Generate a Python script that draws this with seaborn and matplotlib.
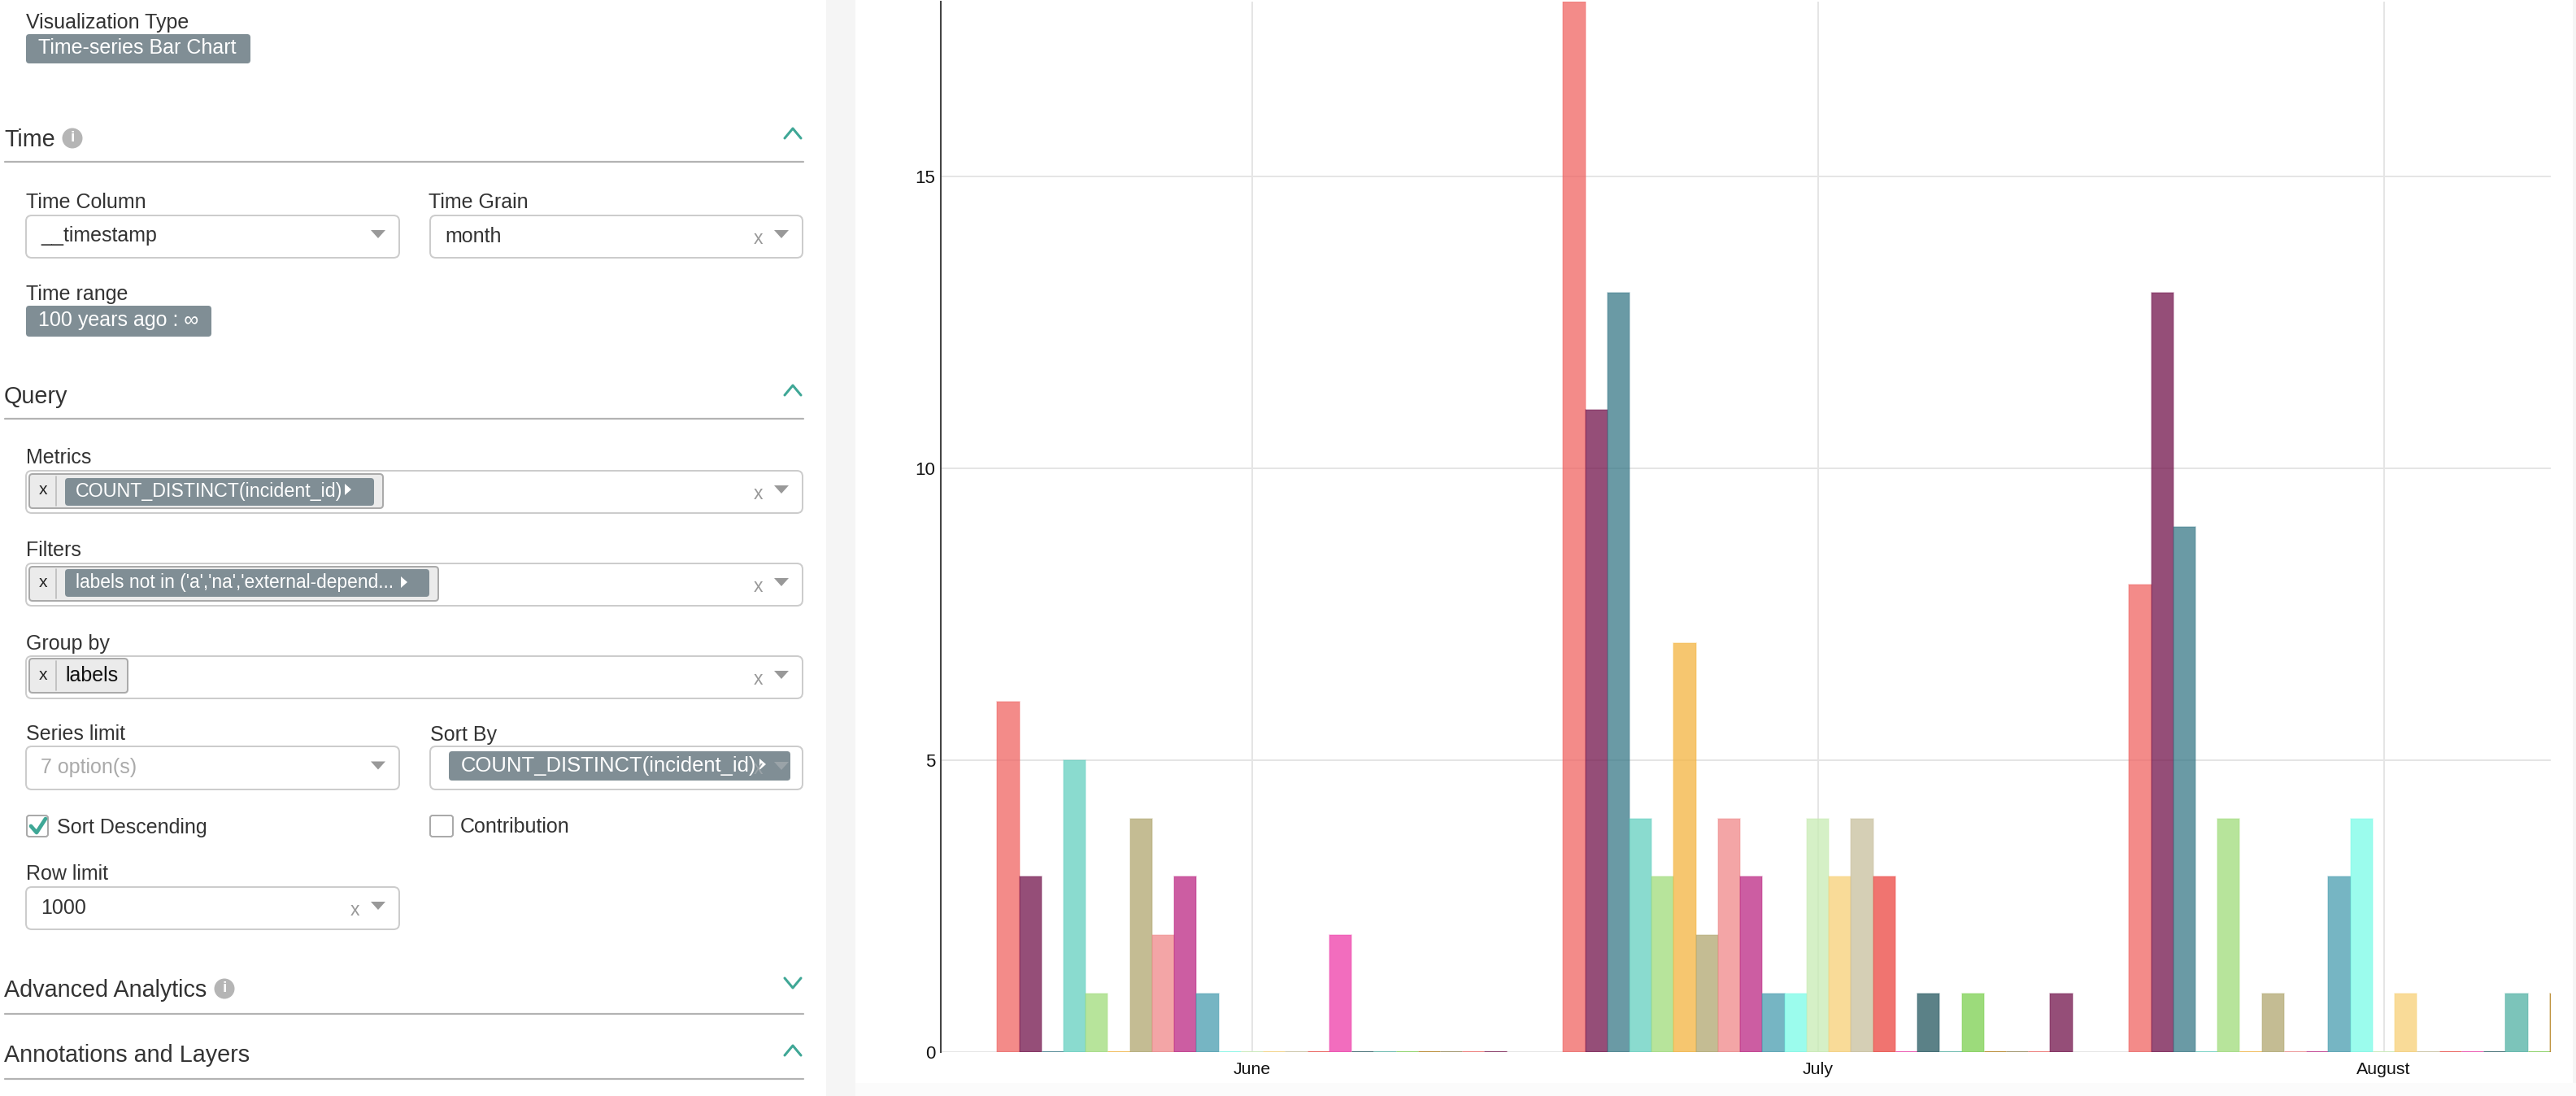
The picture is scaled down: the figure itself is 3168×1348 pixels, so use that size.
import numpy as np
import pandas as pd
import matplotlib
matplotlib.use("Agg")
import matplotlib.pyplot as plt
import matplotlib.patches as mpatches
import seaborn as sns

months = ["June", "July", "August"]
june_counts = [6, 3, 0, 5, 1, 0, 4, 2, 3, 1, 0, 0, 0, 0, 0, 2, 0, 0, 0, 0, 0, 0, 0]
july_counts = [18, 11, 13, 4, 3, 7, 2, 4, 3, 1, 1, 4, 3, 4, 3, 0, 1, 0, 1, 0, 0, 0, 1]
august_counts = [8, 13, 9, 0, 4, 0, 1, 0, 0, 3, 4, 0, 1, 0, 0, 0, 0, 1, 0, 1, 0, 0, 0]
y_ticks = [0, 5, 10, 15]
# colours of the label series, as they look on white
series_colors = ["#F38B89", "#954E78", "#6A9AA5", "#8ADBD0", "#B7E59B", "#F7C76F", "#C4BC93", "#F3A5A6",
                 "#CC5DA2", "#76B5C3", "#9BFCEE", "#D5F1C6", "#F9DC98", "#D6CFB5", "#F07470", "#F26DBE",
                 "#5B8187", "#7CC4BA", "#9CDB7B", "#C49A4A", "#AEA37D", "#F38B89", "#954E78"]

W, H = 3168, 1348
BAR_ALPHA = 0.75
GREY_TAG = "#808E95"
TEAL = "#3FA796"
LINE = "#B3B3B3"
BOX = "#CCCCCC"
INK = "#333333"


def under_white(color):
    # base colour which gives "color" when drawn with BAR_ALPHA on white
    rgb = np.array(matplotlib.colors.to_rgb(color))
    return tuple(np.clip((rgb - (1 - BAR_ALPHA)) / BAR_ALPHA, 0, 1))


sns.set_theme(style="white")
plt.rcParams["font.family"] = ["Liberation Sans", "DejaVu Sans"]

rows = []
for month, counts in zip(months, [june_counts, july_counts, august_counts]):
    for i, c in enumerate(counts):
        rows.append({"month": month, "series": "s%d" % i, "count": c})
df = pd.DataFrame(rows)
series_order = ["s%d" % i for i in range(len(series_colors))]

fig = plt.figure(figsize=(W / 100, H / 100), dpi=100, facecolor="white")

# left control panel, drawn in pixel coordinates
ui = fig.add_axes([0, 0, 1, 1], zorder=0)
ui.set_xlim(0, W)
ui.set_ylim(H, 0)
ui.axis("off")


def label(x, y, s, size=25, color=INK, **kw):
    ui.text(x, y + 1.5, s, fontsize=size * 0.72, color=color, va="center", ha=kw.pop("ha", "left"), **kw)


def rbox(x0, y0, x1, y1, fc="white", ec=BOX, lw=2.0, r=7):
    ui.add_patch(mpatches.FancyBboxPatch((x0 + r, y0 + r), x1 - x0 - 2 * r, y1 - y0 - 2 * r,
                                         boxstyle="round,pad=%d,rounding_size=%d" % (r, r),
                                         fc=fc, ec=ec, lw=lw * 0.72))


def triangle(x, y, color="#999999", w=9, h=10):
    ui.add_patch(mpatches.Polygon([(x - w, y - h / 2), (x + w, y - h / 2), (x, y + h / 2)], fc=color, ec="none"))


def arrow_right(x, y):
    ui.add_patch(mpatches.Polygon([(x - 4, y - 7), (x + 4, y), (x - 4, y + 7)], fc="white", ec="none"))


def cross(x, y, color="#999999", size=23):
    ui.text(x, y, "x", fontsize=size * 0.72, color=color, ha="center", va="center")


def select(x0, y0, x1, y1, text=None, clear=False, color=INK):
    rbox(x0, y0, x1, y1)
    if text:
        label(x0 + 18, (y0 + y1) / 2 - 2, text, color=color)
    triangle(x1 - 26, (y0 + y1) / 2 - 3)
    if clear:
        cross(x1 - 55, (y0 + y1) / 2 + 2)


def badge(x0, y0, x1, y1, text, tx=None, size=25):
    rbox(x0, y0, x1, y1, fc=GREY_TAG, ec=GREY_TAG, lw=0, r=4)
    label(tx if tx else x0 + 15, (y0 + y1) / 2 - 2, text, color="white", size=size)


def section(y_text, y_line, text, up=True, icon_x=None):
    label(5, y_text, text, size=28.8)
    ys = y_line - 34
    if up:
        ui.plot([965, 975, 985], [ys + 5, ys - 7, ys + 5], color=TEAL, lw=2.2)
    else:
        ys = ys - 3
        ui.plot([965, 975, 985], [ys - 7, ys + 5, ys - 7], color=TEAL, lw=2.2)
    ui.plot([6, 988], [y_line, y_line], color=LINE, lw=1.6)
    if icon_x:
        ui.add_patch(mpatches.Ellipse((icon_x, y_text), 25, 25, fc="#B5B5B5", ec="none"))
        ui.text(icon_x, y_text, "i", color="white", fontsize=14, fontweight="bold", ha="center", va="center")


def multi_tag(y0, y1, x1):
    rbox(36, y0, x1, y1, fc="#EBEBEB", ec="#AAAAAA", r=4)
    cross(53, (y0 + y1) / 2 - 1, color="#222222", size=21)
    ui.plot([69, 69], [y0 + 3, y1 - 3], color="#BBBBBB", lw=1.2)


# grey gutter between panel and chart, and the page edges
ui.add_patch(mpatches.Rectangle((1016, 0), 36, H, fc="#F5F5F5", ec="none"))
ui.add_patch(mpatches.Rectangle((3164, 0), 4, H, fc="#F5F5F5", ec="none"))
ui.add_patch(mpatches.Rectangle((1052, 1332), W - 1052, 16, fc="#FBFBFB", ec="none"))

label(32, 26, "Visualization Type")
badge(32, 42, 308, 78, "Time-series Bar Chart")

section(170, 199, "Time", icon_x=89)
label(32, 248, "Time Column")
label(527, 248, "Time Grain")
select(32, 265, 491, 317, "__timestamp")
select(529, 265, 987, 317, "month", clear=True)
label(32, 360, "Time range")
badge(32, 376, 260, 414, "100 years ago : \u221e")

section(486, 515, "Query")
label(32, 561, "Metrics")
select(32, 579, 987, 631, clear=True)
multi_tag(583, 625, 471)
badge(80, 588, 460, 622, "COUNT_DISTINCT(incident_id)", tx=93, size=23.2)
arrow_right(428, 602)

label(32, 676, "Filters")
select(32, 693, 987, 745, clear=True)
multi_tag(697, 739, 539)
badge(80, 700, 528, 734, "labels not in ('a','na','external-depend...", tx=93, size=22.8)
arrow_right(497, 716)

label(32, 790, "Group by")
select(32, 807, 987, 859, clear=True)
multi_tag(810, 852, 157)
label(80, 829, "labels", color="#111111")

label(32, 902, "Series limit")
label(529, 902, "Sort By")
select(32, 918, 491, 971, "7 option(s)", color="#AAAAAA")
rbox(529, 918, 987, 971)
badge(552, 924, 972, 960, "COUNT_DISTINCT(incident_id)", tx=567, size=25.6)
arrow_right(938, 940)
triangle(961, 942, color="#9AA3A8")
cross(932, 946, color="#9AA3A8")

rbox(33, 1003, 59, 1029, ec="#AAAAAA", r=3)
ui.plot([38, 45, 56], [1016, 1024, 1007], color=TEAL, lw=3.4)
label(70, 1016, "Sort Descending")
rbox(529, 1003, 557, 1029, ec="#AAAAAA", r=3)
label(566, 1016, "Contribution")

label(32, 1073, "Row limit")
select(32, 1091, 491, 1143, "1000", clear=True)

section(1216, 1247, "Advanced Analytics", up=False, icon_x=276)
section(1297, 1327, "Annotations and Layers")

# chart
left, right, top, bottom = 1157, 3136.5, 1.5, 1293.7
ax = fig.add_axes([left / W, 1 - bottom / H, (right - left) / W, (bottom - top) / H], zorder=1)
ax.patch.set_alpha(0)
sns.barplot(data=df, x="month", y="count", hue="series", order=months, hue_order=series_order,
            palette=[under_white(c) for c in series_colors], width=0.9, gap=0, saturation=1,
            errorbar=None, legend=False, ax=ax)
for p in ax.patches:
    fc = p.get_facecolor()
    p.set_facecolor((*fc[:3], BAR_ALPHA))
    if p.get_height() == 0:
        # empty bars only show their stroke, half of it is clipped by the axes
        p.set_edgecolor((*fc[:3], 0.9))
        p.set_linewidth(2.0)
    else:
        p.set_edgecolor((*fc[:3], 0.35))
        p.set_linewidth(1.1)

ax.set_xlim(-(1539.5 - left) / 696, (right - 1539.5) / 696)
ax.set_ylim(0, 18)
ax.set_yticks(y_ticks)
ax.set_xlabel("")
ax.set_ylabel("")
ax.set_axisbelow(True)
ax.grid(True, color="#E5E5E5", lw=1.44)
ax.tick_params(axis="y", length=0, pad=5, labelsize=16, labelcolor="#111111")
ax.tick_params(axis="x", length=0, pad=9, labelsize=15.4, labelcolor="#111111")
sns.despine(ax=ax, top=True, right=True, bottom=True, left=False)
ax.spines["left"].set_color("#444444")
ax.spines["left"].set_linewidth(1.5)

fig.savefig("out.png", dpi=100)
